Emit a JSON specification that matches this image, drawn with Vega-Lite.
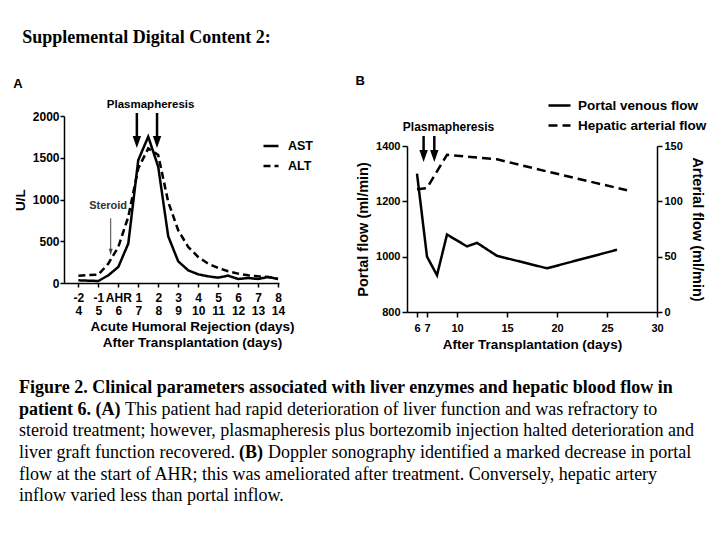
{
  "$schema": "https://vega.github.io/schema/vega-lite/v6.json",
  "background": "white",
  "padding": {"left": 13, "top": 29, "right": 5, "bottom": 5},
  "autosize": {"type": "pad"},
  "title": {"text": "Supplemental Digital Content 2:", "anchor": "start", "font": "Liberation Serif", "fontSize": 18, "fontWeight": "bold", "color": "black", "dx": 9, "offset": 28},
  "config": {
    "view": {"stroke": null},
    "font": "Liberation Sans",
    "axis": {"grid": false, "domainColor": "black", "tickColor": "black", "labelColor": "black", "titleColor": "black", "labelFont": "Liberation Sans", "titleFont": "Liberation Sans", "labelFontWeight": "bold", "titleFontWeight": "bold", "domainWidth": 1.5, "tickWidth": 1.5, "labelFlush": false, "labelOverlap": false},
    "legend": {"labelColor": "black", "labelFont": "Liberation Sans", "labelFontWeight": "bold", "padding": 0},
    "title": {"color": "black"}
  },
  "datasets": {
    "liver": [
      {"day": 4, "enzyme": "AST", "value": 32}, {"day": 5, "enzyme": "AST", "value": 24}, {"day": 5.5, "enzyme": "AST", "value": 92}, {"day": 6, "enzyme": "AST", "value": 192}, {"day": 6.5, "enzyme": "AST", "value": 472}, {"day": 7, "enzyme": "AST", "value": 1472}, {"day": 7.5, "enzyme": "AST", "value": 1752}, {"day": 8, "enzyme": "AST", "value": 1392}, {"day": 8.5, "enzyme": "AST", "value": 560}, {"day": 9, "enzyme": "AST", "value": 260}, {"day": 9.5, "enzyme": "AST", "value": 152}, {"day": 10, "enzyme": "AST", "value": 104}, {"day": 10.5, "enzyme": "AST", "value": 80}, {"day": 11, "enzyme": "AST", "value": 64}, {"day": 11.5, "enzyme": "AST", "value": 88}, {"day": 12, "enzyme": "AST", "value": 48}, {"day": 12.5, "enzyme": "AST", "value": 60}, {"day": 13, "enzyme": "AST", "value": 48}, {"day": 13.5, "enzyme": "AST", "value": 72}, {"day": 14, "enzyme": "AST", "value": 48},
      {"day": 4, "enzyme": "ALT", "value": 88}, {"day": 5, "enzyme": "ALT", "value": 100}, {"day": 5.5, "enzyme": "ALT", "value": 232}, {"day": 6, "enzyme": "ALT", "value": 432}, {"day": 6.5, "enzyme": "ALT", "value": 792}, {"day": 7, "enzyme": "ALT", "value": 1372}, {"day": 7.5, "enzyme": "ALT", "value": 1612}, {"day": 8, "enzyme": "ALT", "value": 1532}, {"day": 8.5, "enzyme": "ALT", "value": 972}, {"day": 9, "enzyme": "ALT", "value": 632}, {"day": 9.5, "enzyme": "ALT", "value": 432}, {"day": 10, "enzyme": "ALT", "value": 312}, {"day": 10.5, "enzyme": "ALT", "value": 232}, {"day": 11, "enzyme": "ALT", "value": 180}, {"day": 11.5, "enzyme": "ALT", "value": 140}, {"day": 12, "enzyme": "ALT", "value": 112}, {"day": 12.5, "enzyme": "ALT", "value": 92}, {"day": 13, "enzyme": "ALT", "value": 80}, {"day": 13.5, "enzyme": "ALT", "value": 72}, {"day": 14, "enzyme": "ALT", "value": 48}
    ],
    "flow": [
      {"day": 6, "series": "Portal venous flow", "value": 1300}, {"day": 7, "series": "Portal venous flow", "value": 1000}, {"day": 8, "series": "Portal venous flow", "value": 933}, {"day": 9, "series": "Portal venous flow", "value": 1080}, {"day": 11, "series": "Portal venous flow", "value": 1037}, {"day": 12, "series": "Portal venous flow", "value": 1050}, {"day": 14, "series": "Portal venous flow", "value": 1003}, {"day": 19, "series": "Portal venous flow", "value": 958}, {"day": 26, "series": "Portal venous flow", "value": 1025},
      {"day": 6, "series": "Hepatic arterial flow", "value": 111}, {"day": 7, "series": "Hepatic arterial flow", "value": 112}, {"day": 9, "series": "Hepatic arterial flow", "value": 142}, {"day": 14, "series": "Hepatic arterial flow", "value": 138}, {"day": 19, "series": "Hepatic arterial flow", "value": 127}, {"day": 27, "series": "Hepatic arterial flow", "value": 110}
    ],
    "arrows": [
      {"panel": "A", "kind": "thick", "day": 6.93, "top": 2036, "bottom": 1700, "head": 1688},
      {"panel": "A", "kind": "thick", "day": 7.94, "top": 2036, "bottom": 1700, "head": 1688},
      {"panel": "A", "kind": "thin", "day": 5.62, "top": 776, "bottom": 380, "head": 371},
      {"panel": "B", "kind": "thick", "day": 6.66, "top": 1436, "bottom": 1370, "head": 1364},
      {"panel": "B", "kind": "thick", "day": 7.73, "top": 1436, "bottom": 1370, "head": 1364}
    ],
    "notes": [
      {"panel": "A", "label": "Plasmapheresis", "day": 7.62, "value": 2132, "size": "big"},
      {"panel": "A", "label": "Steroid", "day": 5.49, "value": 920, "size": "small"},
      {"panel": "B", "label": "Plasmapheresis", "day": 9.15, "value": 1467, "size": "big"}
    ],
    "caption": [
      {"line": 1, "part": "a", "w": "bold", "text": "Figure 2. Clinical parameters associated with liver enzymes and hepatic blood flow in"},
      {"line": 2, "part": "a", "w": "bold", "text": "patient 6. (A)"},
      {"line": 2, "part": "b", "w": "normal", "text": "This patient had rapid deterioration of liver function and was refractory to"},
      {"line": 3, "part": "a", "w": "normal", "text": "steroid treatment; however, plasmapheresis plus bortezomib injection halted deterioration and"},
      {"line": 4, "part": "a", "w": "normal", "text": "liver graft function recovered."},
      {"line": 4, "part": "b", "w": "bold", "text": "(B)"},
      {"line": 4, "part": "c", "w": "normal", "text": "Doppler sonography identified a marked decrease in portal"},
      {"line": 5, "part": "a", "w": "normal", "text": "flow at the start of AHR; this was ameliorated after treatment. Conversely, hepatic artery"},
      {"line": 6, "part": "a", "w": "normal", "text": "inflow varied less than portal inflow."}
    ]
  },
  "spacing": 26,
  "vconcat": [
    {
      "spacing": 42,
      "resolve": {"scale": {"strokeDash": "independent"}, "legend": {"strokeDash": "independent"}},
      "hconcat": [
        {
          "width": 215,
          "height": 167,
          "title": {"text": "A", "anchor": "start", "font": "Liberation Sans", "fontSize": 13, "fontWeight": "bold", "offset": 8},
          "encoding": {
            "x": {"type": "quantitative", "scale": {"domain": [3.28, 14.05], "nice": false, "zero": false},
                  "axis": {"values": [4, 5, 6, 7, 8, 9, 10, 11, 12, 13, 14], "labelExpr": "[datum.value == 6 ? 'AHR' : '' + (datum.value - 6), '' + datum.value]", "labelFontSize": 12, "labelLineHeight": 13.5, "tickSize": 4, "labelPadding": 5, "title": ["Acute Humoral Rejection (days)", "After Transplantation (days)"], "titleFontSize": 13.5, "titleLineHeight": 16, "titlePadding": 3, "titleX": 128}},
            "y": {"type": "quantitative", "scale": {"domain": [0, 2000], "nice": false},
                  "axis": {"values": [0, 500, 1000, 1500, 2000], "format": "d", "labelFontSize": 12, "tickSize": 4, "labelPadding": 1, "title": "U/L", "titleFontSize": 13.5, "titlePadding": 5}}
          },
          "layer": [
            {
              "data": {"name": "liver"},
              "mark": {"type": "line", "strokeWidth": 2.5, "color": "black"},
              "encoding": {
                "x": {"field": "day"},
                "y": {"field": "value"},
                "strokeDash": {"field": "enzyme", "type": "nominal", "scale": {"domain": ["AST", "ALT"], "range": [[1, 0], [7, 4]]},
                  "legend": {"orient": "none", "legendX": 198, "legendY": 21, "title": null, "symbolType": "stroke", "symbolSize": 225, "symbolStrokeWidth": 2.5, "symbolStrokeColor": "black", "labelFontSize": 12.5, "labelOffset": 8, "rowPadding": 4}}
              }
            },
            {
              "data": {"name": "arrows"},
              "transform": [{"filter": "datum.panel == 'A' && datum.kind == 'thick'"}],
              "mark": {"type": "rule", "strokeWidth": 2.5, "color": "black"},
              "encoding": {"x": {"field": "day"}, "y": {"field": "top"}, "y2": {"field": "bottom"}}
            },
            {
              "data": {"name": "arrows"},
              "transform": [{"filter": "datum.panel == 'A' && datum.kind == 'thick'"}],
              "mark": {"type": "point", "shape": "M-0.7,-1L0.7,-1L0,1Z", "size": 144, "filled": true, "color": "black", "opacity": 1},
              "encoding": {"x": {"field": "day"}, "y": {"field": "head"}}
            },
            {
              "data": {"name": "arrows"},
              "transform": [{"filter": "datum.panel == 'A' && datum.kind == 'thin'"}],
              "mark": {"type": "rule", "strokeWidth": 1, "color": "#444444"},
              "encoding": {"x": {"field": "day"}, "y": {"field": "top"}, "y2": {"field": "bottom"}}
            },
            {
              "data": {"name": "arrows"},
              "transform": [{"filter": "datum.panel == 'A' && datum.kind == 'thin'"}],
              "mark": {"type": "point", "shape": "M-0.6,-1L0.6,-1L0,1Z", "size": 40, "filled": true, "color": "#444444", "opacity": 1},
              "encoding": {"x": {"field": "day"}, "y": {"field": "head"}}
            },
            {
              "data": {"name": "notes"},
              "transform": [{"filter": "datum.panel == 'A' && datum.size == 'big'"}],
              "mark": {"type": "text", "font": "Liberation Sans", "fontWeight": "bold", "fontSize": 11.5, "baseline": "middle", "color": "black"},
              "encoding": {"x": {"field": "day"}, "y": {"field": "value"}, "text": {"field": "label"}}
            },
            {
              "data": {"name": "notes"},
              "transform": [{"filter": "datum.panel == 'A' && datum.size == 'small'"}],
              "mark": {"type": "text", "font": "Liberation Sans", "fontWeight": "bold", "fontSize": 11, "baseline": "middle", "color": "#333333"},
              "encoding": {"x": {"field": "day"}, "y": {"field": "value"}, "text": {"field": "label"}}
            }
          ]
        },
        {
          "width": 250,
          "height": 196,
          "title": {"text": "B", "anchor": "start", "font": "Liberation Sans", "fontSize": 13, "fontWeight": "bold", "offset": 5},
          "resolve": {"scale": {"y": "independent"}},
          "layer": [
            {
              "encoding": {
                "x": {"type": "quantitative", "scale": {"domain": [5, 30], "nice": false, "zero": false},
                      "axis": {"values": [6, 7, 10, 15, 20, 25, 30], "labelFontSize": 11, "tickSize": 5, "labelPadding": 5, "title": "After Transplantation (days)", "titleFontSize": 13.5, "titlePadding": 4}},
                "y": {"type": "quantitative", "scale": {"domain": [800, 1400], "range": [196, 30], "nice": false, "zero": false},
                      "axis": {"values": [800, 1000, 1200, 1400], "format": "d", "labelFontSize": 11, "tickSize": 5, "labelPadding": 2, "title": "Portal flow (ml/min)", "titleFontSize": 14.5, "titlePadding": 5}}
              },
              "layer": [
                {
                  "data": {"name": "flow"},
                  "transform": [{"filter": "datum.series == 'Portal venous flow'"}],
                  "mark": {"type": "line", "strokeWidth": 2.5, "color": "black"},
                  "encoding": {
                    "x": {"field": "day"},
                    "y": {"field": "value"},
                    "strokeDash": {"field": "series", "type": "nominal", "scale": {"domain": ["Portal venous flow", "Hepatic arterial flow"], "range": [[1, 0], [9, 5]]},
                      "legend": {"orient": "none", "legendX": 140, "legendY": -23, "title": null, "symbolType": "stroke", "symbolSize": 484, "symbolStrokeWidth": 2.5, "symbolStrokeColor": "black", "labelFontSize": 13.5, "labelOffset": 6, "rowPadding": 1}}
                  }
                },
                {
                  "data": {"name": "arrows"},
                  "transform": [{"filter": "datum.panel == 'B'"}],
                  "mark": {"type": "rule", "strokeWidth": 2.5, "color": "black"},
                  "encoding": {"x": {"field": "day"}, "y": {"field": "top"}, "y2": {"field": "bottom"}}
                },
                {
                  "data": {"name": "arrows"},
                  "transform": [{"filter": "datum.panel == 'B'"}],
                  "mark": {"type": "point", "shape": "M-0.7,-1L0.7,-1L0,1Z", "size": 144, "filled": true, "color": "black", "opacity": 1},
                  "encoding": {"x": {"field": "day"}, "y": {"field": "head"}}
                },
                {
                  "data": {"name": "notes"},
                  "transform": [{"filter": "datum.panel == 'B'"}],
                  "mark": {"type": "text", "font": "Liberation Sans", "fontWeight": "bold", "fontSize": 12, "baseline": "middle", "color": "black"},
                  "encoding": {"x": {"field": "day"}, "y": {"field": "value"}, "text": {"field": "label"}}
                }
              ]
            },
            {
              "data": {"name": "flow"},
              "transform": [{"filter": "datum.series == 'Hepatic arterial flow'"}],
              "mark": {"type": "line", "strokeWidth": 2.5, "color": "black"},
              "encoding": {
                "x": {"field": "day", "type": "quantitative"},
                "y": {"field": "value", "type": "quantitative", "scale": {"domain": [0, 150], "range": [196, 30], "nice": false},
                      "axis": {"orient": "right", "values": [0, 50, 100, 150], "format": "d", "labelFontSize": 11, "tickSize": 5, "labelPadding": 2, "title": "Arterial flow (ml/min)", "titleFontSize": 14.5, "titlePadding": 7}},
                "strokeDash": {"field": "series", "type": "nominal", "scale": {"domain": ["Portal venous flow", "Hepatic arterial flow"], "range": [[1, 0], [9, 5]]}}
              }
            }
          ]
        }
      ]
    },
    {
      "width": 700,
      "height": 130,
      "data": {"name": "caption"},
      "encoding": {
        "y": {"field": "line", "type": "quantitative", "scale": {"domain": [0.5, 6.5], "reverse": true, "nice": false}, "axis": null},
        "text": {"field": "text"}
      },
      "layer": [
        {"transform": [{"filter": "datum.part == 'a' && datum.w == 'bold'"}], "mark": {"type": "text", "align": "left", "baseline": "middle", "font": "Liberation Serif", "fontSize": 18, "fontWeight": "bold", "color": "black", "x": -45}},
        {"transform": [{"filter": "datum.part == 'a' && datum.w == 'normal'"}], "mark": {"type": "text", "align": "left", "baseline": "middle", "font": "Liberation Serif", "fontSize": 18, "color": "black", "x": -45}},
        {"transform": [{"filter": "datum.part == 'b' && datum.line == 2"}], "mark": {"type": "text", "align": "left", "baseline": "middle", "font": "Liberation Serif", "fontSize": 18, "color": "black", "x": -45, "dx": 106}},
        {"transform": [{"filter": "datum.part == 'b' && datum.line == 4"}], "mark": {"type": "text", "align": "left", "baseline": "middle", "font": "Liberation Serif", "fontSize": 18, "fontWeight": "bold", "color": "black", "x": -45, "dx": 220}},
        {"transform": [{"filter": "datum.part == 'c'"}], "mark": {"type": "text", "align": "left", "baseline": "middle", "font": "Liberation Serif", "fontSize": 18, "color": "black", "x": -45, "dx": 249}}
      ]
    }
  ]
}
